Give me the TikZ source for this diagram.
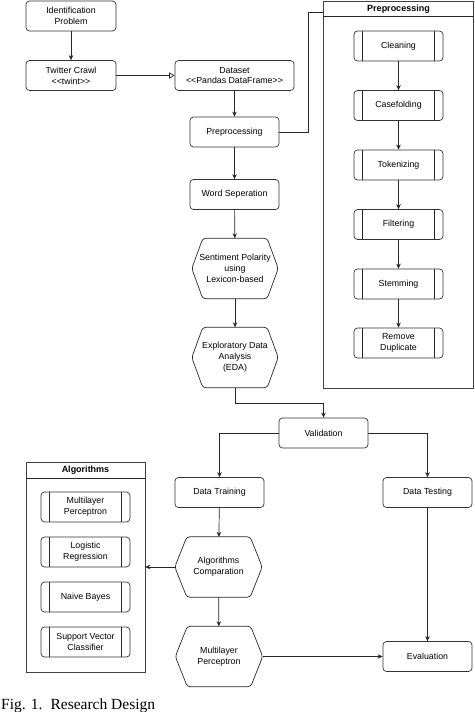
\documentclass[tikz,border=0pt]{standalone}
\usepackage{fontspec}
\setmainfont{Liberation Serif}
\setsansfont{Liberation Sans}
\usetikzlibrary{arrows.meta, positioning, calc}

% hexagon outline drawn round a (borderless) node
\newcommand{\hexframe}[2][11pt]{%
  \draw[line, rounded corners=3pt] (#2.west) -- ([xshift=#1]#2.north west) -- ([xshift=-#1]#2.north east)
    -- (#2.east) -- ([xshift=-#1]#2.south east) -- ([xshift=#1]#2.south west) -- cycle;}

\begin{document}
\begin{tikzpicture}[
    x=1pt, y=-1pt,
    >={Stealth[width=4.5pt,length=5pt]},
    every node/.style={font=\sffamily\fontsize{8.8}{10.8}\selectfont},
    line/.style={draw=black!85, line width=0.7pt},
    box/.style={rectangle, draw=black!80, fill=white, rounded corners=3.5pt, align=center, minimum width=89pt, minimum height=30pt, inner sep=1pt, line width=0.7pt},
    proc/.style={box, path picture={
        \draw[line] ([xshift=8.5pt]path picture bounding box.north west) -- ([xshift=8.5pt]path picture bounding box.south west)
                    ([xshift=-8.5pt]path picture bounding box.north east) -- ([xshift=-8.5pt]path picture bounding box.south east);}},
    hexa/.style={rectangle, align=center, minimum width=86pt, minimum height=60pt, inner sep=0pt},
    group/.style={rectangle, draw=black!75, line width=0.6pt},
    gtitle/.style={font=\sffamily\bfseries\fontsize{9}{11}\selectfont}
]
    \useasboundingbox (0,0) rectangle (474,712);

    % main flow
    \node (idp) [box, minimum width=90pt] at (71,16) {Identification\\Problem};
    \node (twc) [box, minimum width=90pt] at (71,75.5) {Twitter Crawl\\{<}{<}twint{>}{>}};
    \node (dset) [box, minimum width=119pt] at (234.5,75.5) {Dataset\\{<}{<}Pandas DataFrame{>}{>}};
    \node (prep) [box] at (234.5,132) {Preprocessing};
    \node (word) [box] at (234.5,194.5) {Word Seperation};
    \node (senti) [hexa] at (235,268.5) {Sentiment Polarity\\using\\Lexicon-based};
    \node (eda) [hexa] at (235,357.5) {Exploratory Data\\Analysis\\(EDA)};
    \hexframe{senti}
    \hexframe{eda}

    % preprocessing group
    \node (ppgroup) [group, minimum width=150pt, minimum height=387pt] at (398.5,194.5) {};
    \draw[line] ([yshift=-16pt]ppgroup.north west) -- ([yshift=-16pt]ppgroup.north east);
    \node (pptitle) [gtitle] at ([yshift=-8.5pt]ppgroup.north) {Preprocessing};
    \node (clean) [proc] at (398.5,46) {Cleaning};
    \node (casef) [proc] at (398.5,105.5) {Casefolding};
    \node (token) [proc] at (398.5,165) {Tokenizing};
    \node (filt) [proc] at (398.5,224.5) {Filtering};
    \node (stem) [proc] at (398.5,284) {Stemming};
    \node (dupl) [proc] at (398.5,343) {Remove\\Duplicate};

    % validation and training
    \node (val) [box] at (323.5,433) {Validation};
    \node (dtrain) [box] at (219.5,492.5) {Data Training};
    \node (dtest) [box] at (427.5,492.5) {Data Testing};
    \node (algc) [hexa, minimum width=87pt] at (218.5,567) {Algorithms\\Comparation};
    \node (mlp) [hexa, minimum width=87pt] at (219,656.5) {Multilayer\\Perceptron};
    \hexframe[12pt]{algc}
    \hexframe[12pt]{mlp}
    \node (eval) [box] at (427.5,656.5) {Evaluation};

    % algorithms group
    \node (algbox) [group, minimum width=119pt, minimum height=210pt] at (85.5,567) {};
    \draw[line] ([yshift=-17pt]algbox.north west) -- ([yshift=-17pt]algbox.north east);
    \node (algtitle) [gtitle] at ([yshift=-8.5pt]algbox.north) {Algorithms};
    \node (amlp) [proc] at (85.5,507) {Multilayer\\Perceptron};
    \node (alr) [proc] at (85.5,552) {Logistic\\Regression};
    \node (anb) [proc] at (85.5,597) {Naive Bayes};
    \node (asvc) [proc] at (85.5,642) {Support Vector\\Classifier};

    % connectors
    \draw[line, ->] (idp) -- (twc);
    \draw[line, -{Triangle[open, width=6pt, length=5.5pt]}] (twc) -- (dset);
    \draw[line, ->] (dset) -- (prep);
    \draw[line, ->] (prep) -- (word);
    \draw[line, ->] (word) -- (senti);
    \draw[line, ->] (senti) -- (eda);
    \draw[line] (prep.east) -- ++(29,0) |- ([yshift=-12pt]ppgroup.north west);

    \draw[line, ->] (clean) -- (casef);
    \draw[line, ->] (casef) -- (token);
    \draw[line, ->] (token) -- (filt);
    \draw[line, ->] (filt) -- (stem);
    \draw[line, ->] (stem) -- (dupl);

    \draw[line, ->] (eda.south) -- ++(0,16) -| (val.north);
    \draw[line, ->] (val.west) -| (dtrain.north);
    \draw[line, ->] (val.east) -| (dtest.north);
    \draw[line, ->] (dtrain) -- (algc);
    \draw[line, ->] (algc) -- (mlp);
    \draw[line, ->] (algc.west) -- (algbox.east);
    \draw[line, ->] (mlp.east) -- (eval.west);
    \draw[line, ->] (dtest) -- (eval);

    % caption
    \node (caption) [font=\rmfamily\fontsize{15.5}{18}\selectfont, anchor=base west, inner sep=0pt] at (1,709) {Fig. 1.\hspace{8pt}Research Design};
\end{tikzpicture}
\end{document}
